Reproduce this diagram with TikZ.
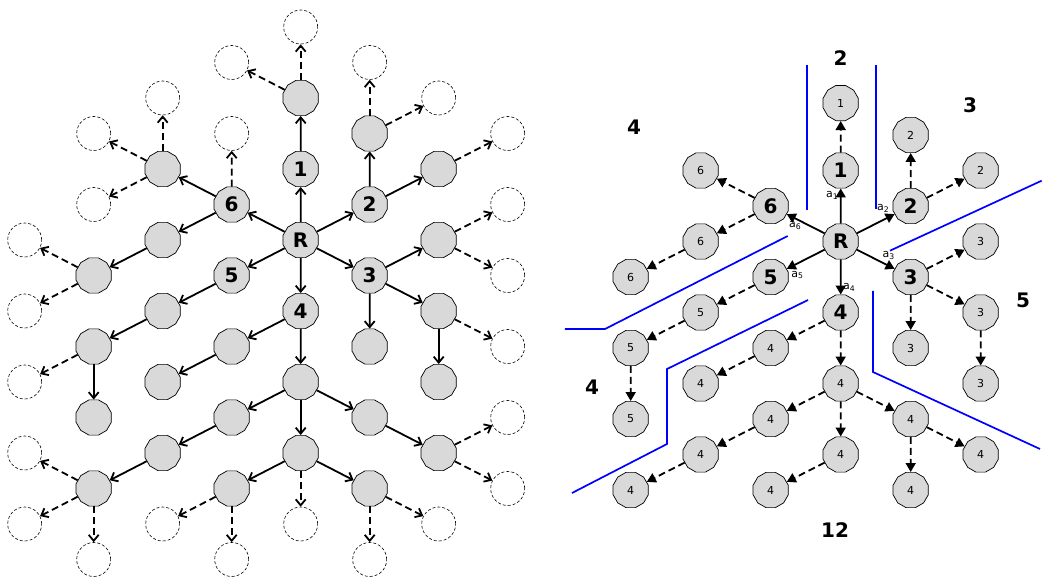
\documentclass[tikz,border=0pt]{standalone}
\usepackage{fontspec}
\setmainfont{DejaVu Sans}
\usetikzlibrary{shapes.geometric, arrows.meta}

\begin{document}
\begin{tikzpicture}[
            x=69pt, y=-35.5pt,
            cell/.style={draw, regular polygon, regular polygon sides=12, fill=black!15,
                minimum size=36.5pt, inner sep=0, line width=0.7pt,
                font=\fontsize{20}{20}\selectfont\bfseries},
            tag/.style={font=\fontsize{11}{11}\selectfont},
            leaf/.style={draw, circle, dash pattern=on 3pt off 2pt, minimum size=34pt,
                inner sep=0, line width=0.6pt},
            spread/.style={-{Straight Barb[length=6pt,width=10pt]}, line width=1.8pt},
            probe/.style={spread, dash pattern=on 7pt off 4pt},
            hop/.style={-{Triangle[length=9pt,width=10pt]}, line width=1.8pt},
            relay/.style={hop, dash pattern=on 7pt off 4pt},
            zone/.style={blue, line width=1.7pt},
            count/.style={font=\fontsize{20}{20}\selectfont\bfseries},
            sub/.style={font=\fontsize{11}{11}\selectfont, inner sep=1.5pt}]
        \useasboundingbox (-300.7pt,240pt) rectangle (749.3pt,-343pt);

        % left: the full tree
        \node[cell] (R) at (0,0) {R};
        \node[cell] (1) at (0,-2) {1};
        \node[cell] (2) at (1,-1) {2};
        \node[cell] (3) at (1,1) {3};
        \node[cell] (4) at (0,2) {4};
        \node[cell] (5) at (-1,1) {5};
        \node[cell] (6) at (-1,-1) {6};
        \node[cell] (1a) at (0,-4) {};
        \node[cell] (2a) at (1,-3) {};
        \node[cell] (2b) at (2,-2) {};
        \node[cell] (6a) at (-2,-2) {};
        \node[cell] (6b) at (-2,0) {};
        \node[cell] (6c) at (-3,1) {};
        \node[cell] (3a) at (2,0) {};
        \node[cell] (3b) at (2,2) {};
        \node[cell] (3c) at (1,3) {};
        \node[cell] (3d) at (2,4) {};
        \node[cell] (5a) at (-2,2) {};
        \node[cell] (5b) at (-3,3) {};
        \node[cell] (5c) at (-3,5) {};
        \node[cell] (4a) at (-1,3) {};
        \node[cell] (4b) at (-2,4) {};
        \node[cell] (4c) at (0,4) {};
        \node[cell] (4d) at (-1,5) {};
        \node[cell] (4e) at (-2,6) {};
        \node[cell] (4f) at (-3,7) {};
        \node[cell] (4g) at (1,5) {};
        \node[cell] (4h) at (2,6) {};
        \node[cell] (4i) at (0,6) {};
        \node[cell] (4j) at (-1,7) {};
        \node[cell] (4k) at (1,7) {};

        \node[leaf] (1ax) at (0,-6) {};
        \node[leaf] (1ay) at (-1,-5) {};
        \node[leaf] (2ax) at (1,-5) {};
        \node[leaf] (2ay) at (2,-4) {};
        \node[leaf] (2bx) at (3,-3) {};
        \node[leaf] (6x) at (-1,-3) {};
        \node[leaf] (6ax) at (-2,-4) {};
        \node[leaf] (6ay) at (-3,-3) {};
        \node[leaf] (6az) at (-3,-1) {};
        \node[leaf] (6cx) at (-4,0) {};
        \node[leaf] (6cy) at (-4,2) {};
        \node[leaf] (3ax) at (3,-1) {};
        \node[leaf] (3ay) at (3,1) {};
        \node[leaf] (3bx) at (3,3) {};
        \node[leaf] (5bx) at (-4,4) {};
        \node[leaf] (4hx) at (3,5) {};
        \node[leaf] (4hy) at (3,7) {};
        \node[leaf] (4fx) at (-4,6) {};
        \node[leaf] (4fy) at (-4,8) {};
        \node[leaf] (4fz) at (-3,9) {};
        \node[leaf] (4jx) at (-2,8) {};
        \node[leaf] (4jy) at (-1,9) {};
        \node[leaf] (4ix) at (0,8) {};
        \node[leaf] (4kx) at (1,9) {};
        \node[leaf] (4ky) at (2,8) {};

        \path[spread] (R) edge (1) edge (2) edge (3) edge (4) edge (5) edge (6);
        \path[spread] (1) edge (1a);
        \path[spread] (2) edge (2a) edge (2b);
        \path[spread] (6) edge (6a) edge (6b);
        \path[spread] (6b) edge (6c);
        \path[spread] (3) edge (3a) edge (3b) edge (3c);
        \path[spread] (3b) edge (3d);
        \path[spread] (5) edge (5a);
        \path[spread] (5a) edge (5b);
        \path[spread] (5b) edge (5c);
        \path[spread] (4) edge (4a) edge (4c);
        \path[spread] (4a) edge (4b);
        \path[spread] (4c) edge (4d) edge (4g) edge (4i);
        \path[spread] (4d) edge (4e);
        \path[spread] (4e) edge (4f);
        \path[spread] (4g) edge (4h);
        \path[spread] (4i) edge (4j) edge (4k);

        \path[probe] (1a) edge (1ax) edge (1ay);
        \path[probe] (2a) edge (2ax) edge (2ay);
        \path[probe] (2b) edge (2bx);
        \path[probe] (6) edge (6x);
        \path[probe] (6a) edge (6ax) edge (6ay) edge (6az);
        \path[probe] (6c) edge (6cx) edge (6cy);
        \path[probe] (3a) edge (3ax) edge (3ay);
        \path[probe] (3b) edge (3bx);
        \path[probe] (5b) edge (5bx);
        \path[probe] (4h) edge (4hx) edge (4hy);
        \path[probe] (4f) edge (4fx) edge (4fy) edge (4fz);
        \path[probe] (4j) edge (4jx) edge (4jy);
        \path[probe] (4i) edge (4ix);
        \path[probe] (4k) edge (4kx) edge (4ky);

        % right: the regions
        \begin{scope}[xshift=540pt, yshift=-1.5pt, x=70pt]
        \node[cell] (rR) at (0,0) {R};
        \node[cell] (r1) at (0,-2) {1};
        \node[cell] (r2) at (1,-1) {2};
        \node[cell] (r3) at (1,1) {3};
        \node[cell] (r4) at (0,2) {4};
        \node[cell] (r5) at (-1,1) {5};
        \node[cell] (r6) at (-1,-1) {6};
        \node[cell, tag] (r1a) at (0,-3.9) {1};
        \node[cell, tag] (r2a) at (1,-3) {2};
        \node[cell, tag] (r2b) at (2,-2) {2};
        \node[cell, tag] (r6a) at (-2,-2) {6};
        \node[cell, tag] (r6b) at (-2,0) {6};
        \node[cell, tag] (r6c) at (-3,1) {6};
        \node[cell, tag] (r3a) at (2,0) {3};
        \node[cell, tag] (r3b) at (2,2) {3};
        \node[cell, tag] (r3c) at (1,3) {3};
        \node[cell, tag] (r3d) at (2,4) {3};
        \node[cell, tag] (r5a) at (-2,2) {5};
        \node[cell, tag] (r5b) at (-3,3) {5};
        \node[cell, tag] (r5c) at (-3,5) {5};
        \node[cell, tag] (r4a) at (-1,3) {4};
        \node[cell, tag] (r4b) at (-2,4) {4};
        \node[cell, tag] (r4c) at (0,4) {4};
        \node[cell, tag] (r4d) at (-1,5) {4};
        \node[cell, tag] (r4e) at (-2,6) {4};
        \node[cell, tag] (r4f) at (-3,7) {4};
        \node[cell, tag] (r4g) at (1,5) {4};
        \node[cell, tag] (r4h) at (2,6) {4};
        \node[cell, tag] (r4i) at (0,6) {4};
        \node[cell, tag] (r4j) at (-1,7) {4};
        \node[cell, tag] (r4k) at (1,7) {4};

        \draw[hop] (rR) -- node[sub, pos=0.8, left] {a\textsubscript{1}} (r1);
        \draw[hop] (rR) -- node[sub, pos=0.7, above=5pt] {a\textsubscript{2}} (r2);
        \draw[hop] (rR) -- node[sub, pos=0.84, above=4pt] {a\textsubscript{3}} (r3);
        \draw[hop] (rR) -- node[sub, pos=0.8, right] {a\textsubscript{4}} (r4);
        \draw[hop] (rR) -- node[sub, pos=0.72, below=5pt] {a\textsubscript{5}} (r5);
        \draw[hop] (rR) -- node[sub, pos=0.78, below=1pt] {a\textsubscript{6}} (r6);

        \path[relay] (r1) edge (r1a);
        \path[relay] (r2) edge (r2a) edge (r2b);
        \path[relay] (r6) edge (r6a) edge (r6b);
        \path[relay] (r6b) edge (r6c);
        \path[relay] (r3) edge (r3a) edge (r3b) edge (r3c);
        \path[relay] (r3b) edge (r3d);
        \path[relay] (r5) edge (r5a);
        \path[relay] (r5a) edge (r5b);
        \path[relay] (r5b) edge (r5c);
        \path[relay] (r4) edge (r4a) edge (r4c);
        \path[relay] (r4a) edge (r4b);
        \path[relay] (r4c) edge (r4d) edge (r4g) edge (r4i);
        \path[relay] (r4d) edge (r4e);
        \path[relay] (r4e) edge (r4f);
        \path[relay] (r4g) edge (r4h) edge (r4k);
        \path[relay] (r4i) edge (r4j);

        \draw[zone] (-0.486,-4.972) -- (-0.486,-0.887);
        \draw[zone] (0.504,-4.972) -- (0.504,-0.915);
        \draw[zone] (0.704,0.259) -- (2.871,-1.713);
        \draw[zone] (-3.939,2.465) -- (-3.367,2.465) -- (-0.757,-0.155);
        \draw[zone] (-0.467,1.648) -- (-2.481,3.592) -- (-2.481,5.704) -- (-3.839,7.085);
        \draw[zone] (0.461,1.394) -- (0.461,3.676) -- (2.847,5.845);

        \node[count] (n1) at (0,-5.17) {2};
        \node[count] (n2) at (1.847,-3.845) {3};
        \node[count] (n6) at (-2.953,-3.225) {4};
        \node[count] (n3) at (2.604,1.648) {5};
        \node[count] (n5) at (-3.553,4.099) {4};
        \node[count] (n4) at (-0.081,8.127) {12};
        \end{scope}
    \end{tikzpicture}
\end{document}
